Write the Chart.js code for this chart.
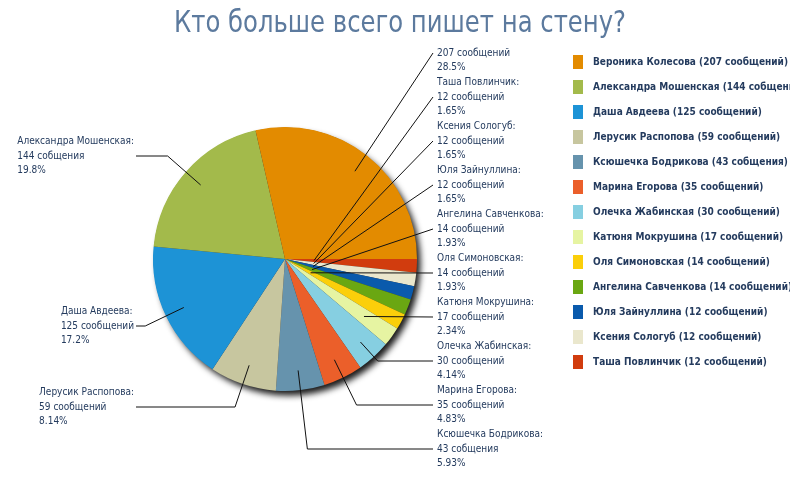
<!DOCTYPE html>
<html>
<head>
<meta charset="utf-8">
<script src="https://cdn.jsdelivr.net/npm/chart.js@4"></script>
<style>
  body { margin: 0; background: #fff; }
  #wrap { width: 800px; height: 500px; }
</style>
</head>
<body>
<div id="wrap"><canvas id="pie" width="800" height="500"></canvas></div>
<script>
// data, in legend order (biggest first)
const names = ['Вероника Колесова', 'Александра Мошенская', 'Даша Авдеева', 'Лерусик Распопова',
  'Ксюшечка Бодрикова', 'Марина Егорова', 'Олечка Жабинская', 'Катюня Мокрушина',
  'Оля Симоновская', 'Ангелина Савченкова', 'Юля Зайнуллина', 'Ксения Сологуб', 'Таша Повлинчик'];
const counts = [207, 144, 125, 59, 43, 35, 30, 17, 14, 14, 12, 12, 12];
const colors = ['#e38b00', '#a3ba4b', '#1d93d6', '#c7c69f', '#6693ad', '#eb5f2a', '#86cfe1',
  '#e6f4a2', '#fbcf0a', '#6aa712', '#0a5aac', '#eae7cd', '#d13c0e'];
const titleText = 'Кто больше всего пишет на стену?';

const total = counts.reduce((a, b) => a + b, 0);
const txtColor = '#243b5e';
const labelFont = '10px "DejaVu Sans Condensed", "DejaVu Sans", sans-serif';
const legendFont = 'bold 10px "DejaVu Sans Condensed", "DejaVu Sans", sans-serif';

// picture has the typo "собщения", keep it
function unit(n) {
  const a = n % 10, b = n % 100;
  return (a >= 2 && a <= 4 && !(b >= 12 && b <= 14)) ? 'собщения' : 'сообщений';
}
function pctText(v) {
  const p = v / total * 100;
  const d = p >= 10 ? 1 : 2;
  const k = Math.pow(10, d);
  return (Math.floor(p * k) / k).toFixed(d) + '%';
}

// pie runs clockwise from 3 o'clock, so feed it reversed
const revNames = names.slice().reverse();
const revCounts = counts.slice().reverse();
const revColors = colors.slice().reverse();

const decor = {
  id: 'decor',
  beforeDatasetsDraw(chart) {
    const arc = chart.getDatasetMeta(0).data[0];
    const ctx = chart.ctx;
    ctx.save();
    ctx.shadowColor = 'rgba(0,0,0,0.9)';
    ctx.shadowBlur = 6;
    ctx.shadowOffsetX = 4;
    ctx.shadowOffsetY = 5;
    ctx.fillStyle = '#333';
    ctx.beginPath();
    ctx.arc(arc.x, arc.y, arc.outerRadius - 0.5, 0, Math.PI * 2);
    ctx.fill();
    ctx.restore();
  },
  afterDatasetsDraw(chart) {
    const ctx = chart.ctx;
    const meta = chart.getDatasetMeta(0);
    const ds = chart.data.datasets[0];
    const lh = 14.6;
    const items = meta.data.map((arc, i) => {
      const mid = (arc.startAngle + arc.endAngle) / 2;
      const v = ds.data[i];
      const p = v / total * 100;
      const f = p < 2 ? 0.22 : p < 3 ? 0.74 : 0.85;
      const c = Math.cos(mid), s = Math.sin(mid);
      return {
        name: chart.data.labels[i], v, c, s, r: arc.outerRadius, cx: arc.x, cy: arc.y,
        ang: Math.atan2(s, c),
        ax: arc.x + c * arc.outerRadius * f, ay: arc.y + s * arc.outerRadius * f
      };
    });
    const right = items.filter(o => o.c > 0).sort((a, b) => a.ang - b.ang);
    const left = items.filter(o => o.c <= 0);
    right.forEach((o, i) => { o.ly = 53 + i * 44; o.side = 1; o.ex = 433; o.tx = 437; });
    ctx.font = labelFont;
    left.forEach(o => {
      o.ly = Math.round(o.cy + o.s * o.r * 1.18);
      o.side = -1; o.ex = 136;
      const w = Math.max(ctx.measureText(o.name + ':').width,
        ctx.measureText(o.v + ' ' + unit(o.v)).width);
      o.tx = 134 - w;
    });

    ctx.save();
    ctx.strokeStyle = '#111';
    ctx.lineWidth = 1;
    items.forEach(o => {
      ctx.beginPath();
      ctx.moveTo(o.ax, o.ay);
      if (Math.abs(o.s) > 0.001) {
        const t = (o.ly - o.ay) / o.s;
        const bx = o.ax + t * o.c;
        if (t > 2 && (o.side > 0 ? bx <= o.ex : bx >= o.ex)) ctx.lineTo(bx, o.ly);
      }
      ctx.lineTo(o.ex, o.ly);
      ctx.stroke();
    });
    ctx.fillStyle = txtColor;
    ctx.textBaseline = 'middle';
    ctx.textAlign = 'left';
    items.forEach(o => {
      ctx.fillText(o.name + ':', o.tx, o.ly - lh);
      ctx.fillText(o.v + ' ' + unit(o.v), o.tx, o.ly);
      ctx.fillText(pctText(o.v), o.tx, o.ly + lh);
    });
    ctx.restore();
  },
  afterDraw(chart) {
    const ctx = chart.ctx;
    const ds = chart.data.datasets[0];
    ctx.save();
    // title sits on a white band (hides the top label's name line, as in the picture)
    ctx.fillStyle = '#fff';
    ctx.fillRect(0, 0, 800, 44);
    ctx.fillStyle = '#5c7a9e';
    ctx.font = '30px "Liberation Sans Narrow", "DejaVu Sans Condensed", sans-serif';
    ctx.textAlign = 'center';
    ctx.textBaseline = 'alphabetic';
    const tw = ctx.measureText(titleText).width;
    ctx.save();
    ctx.translate(400, 32);
    ctx.scale(Math.min(1, 452 / tw), 1);
    ctx.fillText(titleText, 0, 0);
    ctx.restore();

    // legend, biggest first
    ctx.beginPath();
    ctx.rect(560, 44, 230, 456);
    ctx.clip();
    ctx.font = legendFont;
    ctx.textAlign = 'left';
    ctx.textBaseline = 'middle';
    const n = chart.data.labels.length;
    for (let k = 0; k < n; k++) {
      const i = n - 1 - k;
      const y = 62 + k * 25;
      ctx.fillStyle = ds.backgroundColor[i];
      ctx.fillRect(573, y - 7, 10, 14);
      ctx.fillStyle = txtColor;
      const v = ds.data[i];
      ctx.fillText(chart.data.labels[i] + ' (' + v + ' ' + unit(v) + ')', 593, y);
    }
    ctx.restore();
  }
};

new Chart(document.getElementById('pie'), {
  type: 'pie',
  data: {
    labels: revNames,
    datasets: [{
      data: revCounts,
      backgroundColor: revColors,
      borderWidth: 0,
      hoverOffset: 0,
      offset: 0
    }]
  },
  options: {
    responsive: false,
    animation: false,
    rotation: 90,
    layout: { padding: { left: 153, right: 383, top: 127, bottom: 109 } },
    plugins: {
      legend: { display: false },
      title: { display: false },
      tooltip: { enabled: false }
    }
  },
  plugins: [decor]
});
</script>
</body>
</html>
